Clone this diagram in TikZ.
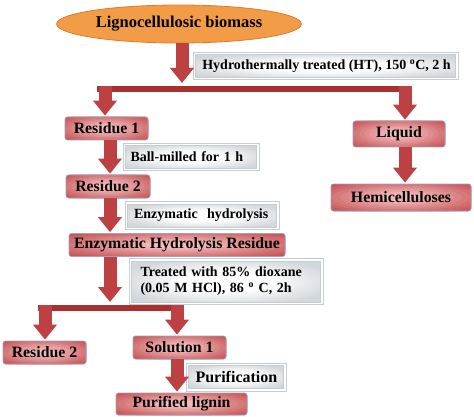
\documentclass[tikz,border=0pt]{standalone}
\usepackage{fontspec}
\setmainfont{Liberation Serif}
\usetikzlibrary{shapes.geometric,arrows.meta,calc}
\definecolor{orfill}{HTML}{F39C48}
\definecolor{ordraw}{HTML}{E07A28}
\definecolor{redin}{HTML}{F2BABA}
\definecolor{redout}{HTML}{C44E50}
\definecolor{redline}{HTML}{9AA6BE}
\definecolor{grayin}{HTML}{FDFDFD}
\definecolor{grayout}{HTML}{D2D7DB}
\definecolor{grayline}{HTML}{C4CCD4}
\definecolor{arrowred}{HTML}{BD4143}
\definecolor{barred}{HTML}{A8302F}
\pgfdeclareradialshading{grayrad}{\pgfpoint{0bp}{0bp}}{color(0bp)=(grayin); color(12bp)=(grayin); color(30bp)=(grayout); color(50bp)=(grayout)}
\tikzset{
  redglow/.style={path picture={
    \path let \p1=($(path picture bounding box.north east)-(path picture bounding box.center)$) in
      \pgfextra{\xdef\hx{\x1}\xdef\hy{\y1}};
    \foreach \k in {0,...,10}{
      \pgfmathsetmacro\ff{1.45*(1-\k/12.5)}
      \pgfmathtruncatemacro\pp{\k*10}
      \fill[redin!\pp!redout] (path picture bounding box.center)
        ellipse [x radius={abs(\hx)*\ff}, y radius={abs(\hy)*\ff}];
    }}},
  redbox/.style={rectangle, rounded corners=2.5pt, draw=redline, line width=0.7pt,
    fill=redout, redglow, inner sep=0pt,
    font=\bfseries\fontsize{15.8}{18}\selectfont, text=black},
  graybox/.style={rectangle, draw=grayline, line width=0.6pt,
    shading=grayrad, inner sep=0pt,
    font=\bfseries\fontsize{14}{16}\selectfont, text=black, align=left},
  frame/.style={draw=grayline, line width=0.6pt},
  blockarrow/.style={draw=arrowred, line width=13pt,
    -{Triangle[width=23pt,length=15pt]}, shorten >=1pt},
  barline/.style={draw=barred, line width=6pt}
}
\begin{document}
\begin{tikzpicture}[x=1pt,y=-1pt]
\useasboundingbox (0,0) rectangle (474,417);
% nodes
\node[ellipse, fill=orfill, draw=ordraw, line width=0.8pt, minimum width=244pt, minimum height=38pt,
  font=\bfseries\fontsize{16.5}{18}\selectfont, text=black] (bio) at (179,24) {Lignocellulosic biomass};
\node[graybox, minimum width=260pt, minimum height=23pt] (ht) at (325.5,66) {\hspace*{2pt}Hydrothermally treated (HT), 150 \textsuperscript{o}C, 2 h};
\node[redbox, minimum width=83pt, minimum height=23pt] (res1) at (106.5,128.5) {Residue 1};
\node[redbox, minimum width=92pt, minimum height=26pt] (liq) at (399,134) {Liquid};
\node[graybox, minimum width=131pt, minimum height=23pt, text width=121pt] (ball) at (191,157) {Ball-milled for 1 h};
\node[redbox, minimum width=84pt, minimum height=23pt] (res2) at (108,186.5) {Residue 2};
\node[redbox, minimum width=140pt, minimum height=27pt] (hemi) at (401,197.5) {Hemicelluloses};
\node[graybox, minimum width=149pt, minimum height=23pt, text width=136pt] (enz) at (202,215.5) {Enzymatic\ \ hydrolysis};
\node[redbox, minimum width=216pt, minimum height=23pt] (ehr) at (177,245) {Enzymatic Hydrolysis Residue};
\node[graybox, minimum width=189pt, minimum height=41pt, text width=171pt] (trt) at (226,281.5) {Treated with 85\% dioxane\\(0.05 M HCl), 86 \textsuperscript{o} C, 2h};
\node[redbox, minimum width=83pt, minimum height=23pt] (res3) at (44.5,352.5) {Residue 2};
\node[redbox, minimum width=93pt, minimum height=23pt] (sol) at (179.5,347.5) {Solution 1};
\node[graybox, minimum width=95pt, minimum height=23pt, text width=81pt,
  font=\bfseries\fontsize{16}{18}\selectfont] (pur) at (236,377) {Purification};
\node[redbox, minimum width=131pt, minimum height=22pt] (lig) at (181.5,404) {Purified lignin};
% outer frames of the condition boxes
\foreach \n in {ht,ball,enz,trt,pur}
  \draw[frame] ($(\n.north west)+(-2pt,2pt)$) rectangle ($(\n.south east)+(2pt,-2pt)$);
% lanes and junctions
\coordinate (b1) at (182,89);
\coordinate (lane1) at (110,0);
\coordinate (laneR) at (405,0);
\coordinate (laneA) at (105,0);
\coordinate (laneS) at (177,0);
\coordinate (laneL) at (45,0);
\coordinate (bl) at (97,89);
\coordinate (br) at (412,89);
\coordinate (b2) at (110,308);
\coordinate (b2l) at (38,308);
\coordinate (b2r) at (184,308);
% first split
\draw[blockarrow] (bio.south -| b1) -- ($(b1)+(0,-5)$);
\draw[barline] (bl) -- (br);
\draw[blockarrow] ($(bl)+(8,-3)$) -- (res1.north -| laneA);
\draw[blockarrow] ($(br)+(-7,-3)$) -- (liq.north -| laneR);
% left chain
\draw[blockarrow] (res1.south -| lane1) -- (res2.north -| lane1);
\draw[blockarrow] (res2.south -| lane1) -- (ehr.north -| lane1);
\draw[blockarrow] (ehr.south -| lane1) -- ($(b2)+(0,-5)$);
% right chain
\draw[blockarrow] (liq.south -| laneR) -- (hemi.north -| laneR);
% second split
\draw[barline] (b2l) -- (b2r);
\draw[blockarrow] ($(b2l)+(7,-3)$) -- (res3.north -| laneL);
\draw[blockarrow] ($(b2r)+(-7,-3)$) -- (sol.north -| laneS);
\draw[blockarrow] (sol.south -| laneS) -- (lig.north -| laneS);
\end{tikzpicture}
\end{document}
